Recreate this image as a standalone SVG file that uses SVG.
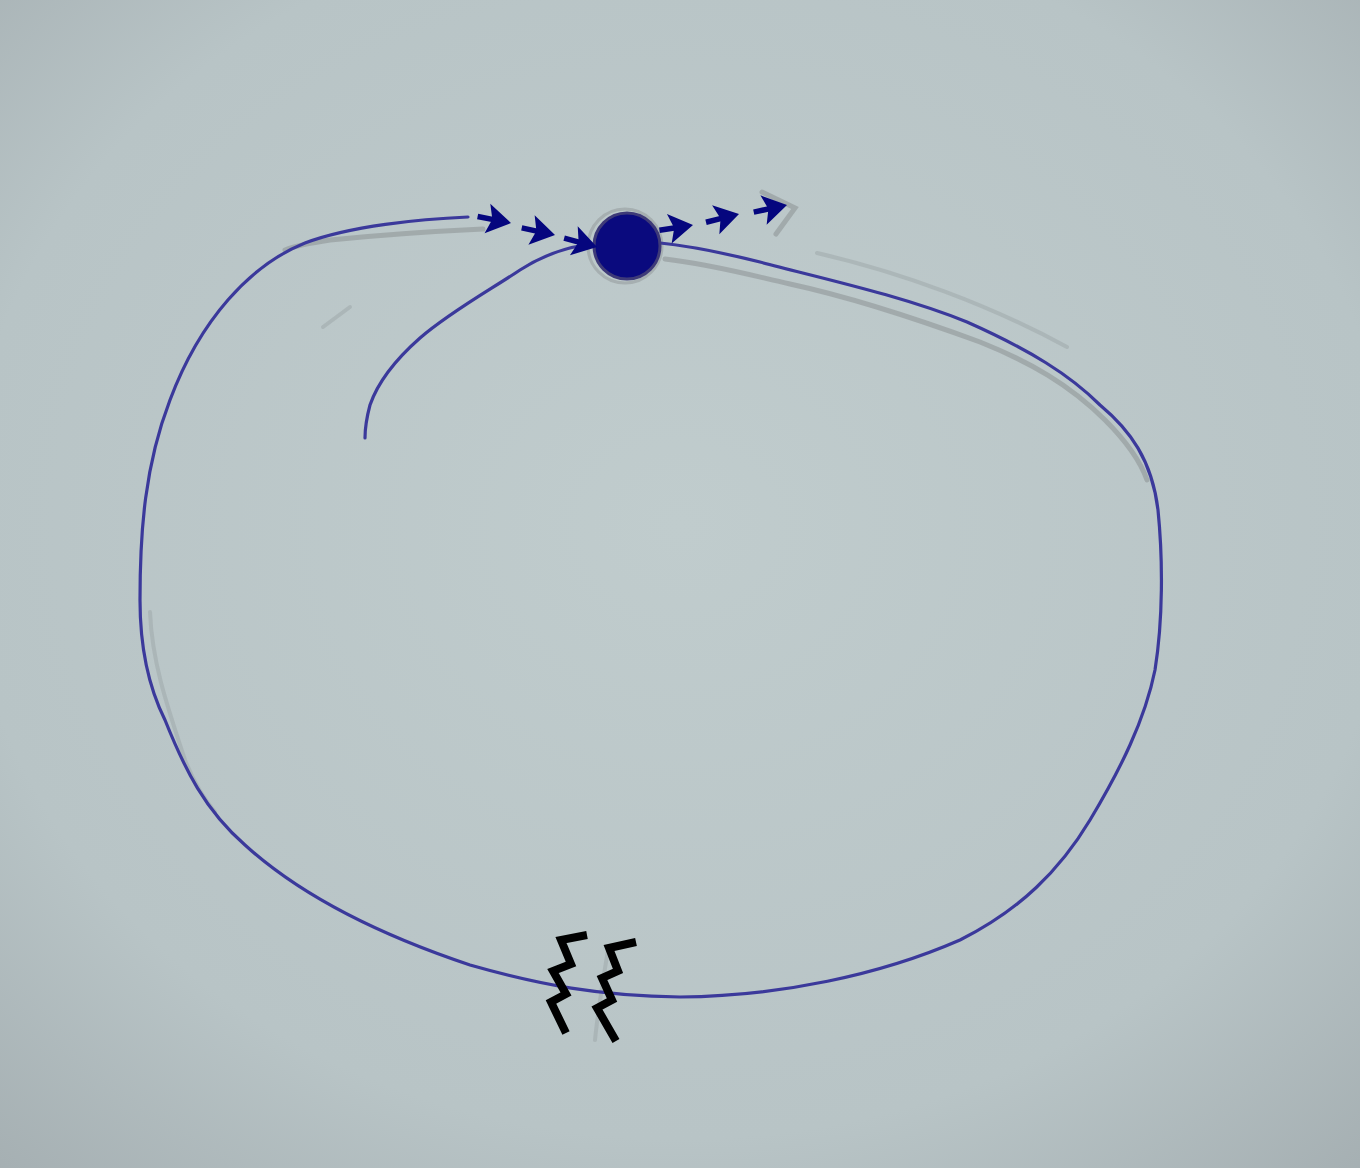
<svg xmlns="http://www.w3.org/2000/svg" width="1360" height="1168" viewBox="0 0 1360 1168">
<defs>
<radialGradient id="bg" cx="0.5" cy="0.45" r="0.75">
<stop offset="0" stop-color="#c0cccd"/>
<stop offset="0.7" stop-color="#b8c4c6"/>
<stop offset="1" stop-color="#a5afb2"/>
</radialGradient>
<g id="arr">
<line x1="-34" y1="0" x2="-14" y2="0" stroke="#05067e" stroke-width="5.5"/>
<polygon points="0,0 -24,-15 -19,0 -24,15" fill="#05067e"/>
</g>
<style>
.ink{fill:none;stroke:#3b399b;stroke-width:3.2;stroke-linecap:round;stroke-linejoin:round}
.pencil{fill:none;stroke:#8f9698;stroke-width:5;stroke-linecap:round;opacity:0.6}
.faint{fill:none;stroke:#9aa2a4;stroke-width:4;stroke-linecap:round;opacity:0.45}
.zig{fill:none;stroke:#000;stroke-width:8;stroke-linejoin:miter}
</style>
</defs>
<rect width="1360" height="1168" fill="url(#bg)"/>
<g id="pencil">
<path class="pencil" d="M483,229 C440,231 380,235 330,240 C310,243 295,246 285,250"/>
<path class="faint" d="M323,327 L350,307"/>
<path class="faint" d="M150,612 C152,660 165,700 185,760 C195,785 205,800 215,812"/>
<path class="pencil" d="M665,259 C710,264 750,275 790,284 C850,297 920,320 980,342 C1030,362 1070,385 1105,420 C1125,440 1140,460 1147,480"/>
<path class="faint" d="M817,253 C900,272 990,305 1067,347"/>
<path class="pencil" d="M762,192 L795,208 L776,234" stroke-width="7"/>
<path class="faint" d="M608,950 C603,980 598,1010 595,1040"/>
<circle cx="625" cy="246" r="37" fill="none" stroke="#8f9698" stroke-width="3" opacity="0.5"/>
</g>
<g id="orbit">
<path class="ink" d="M468,217 C420,219 350,226 305,243 C250,265 200,320 170,400 C145,465 140,530 140,600 C140,650 150,690 165,720 C185,770 205,810 245,845 C300,895 380,935 470,965 C540,985 600,996 680,997 C780,996 880,975 960,940 C1020,910 1060,870 1090,820 C1120,770 1145,720 1155,670 C1163,620 1163,560 1158,510 C1152,460 1130,430 1100,405 C1070,375 1030,350 967,322 C900,295 820,278 760,262 C720,252 690,246 660,243"/>
<path class="ink" d="M585,245 C565,248 545,254 520,270 C490,290 450,312 420,338 C395,360 378,382 370,405 C366,420 365,430 365,438"/>
</g>
<g id="planet">
<circle cx="627" cy="246" r="33" fill="#0a0a7e" stroke="#3e3a78" stroke-width="3"/>
</g>
<g id="arrows">
<use href="#arr" transform="translate(511,223) rotate(11)"/>
<use href="#arr" transform="translate(555,235) rotate(12)"/>
<use href="#arr" transform="translate(597,247) rotate(15)"/>
<use href="#arr" transform="translate(693,225) rotate(-9)"/>
<use href="#arr" transform="translate(739,214) rotate(-14)"/>
<use href="#arr" transform="translate(787,205) rotate(-12)"/>
</g>
<g id="break">
<polyline class="zig" points="587,935 561,940 571,964 553,971 566,994 551,1002 566,1033"/>
<polyline class="zig" points="636,942 609,948 618,971 602,978 612,1000 597,1008 616,1041"/>
</g>
</svg>
